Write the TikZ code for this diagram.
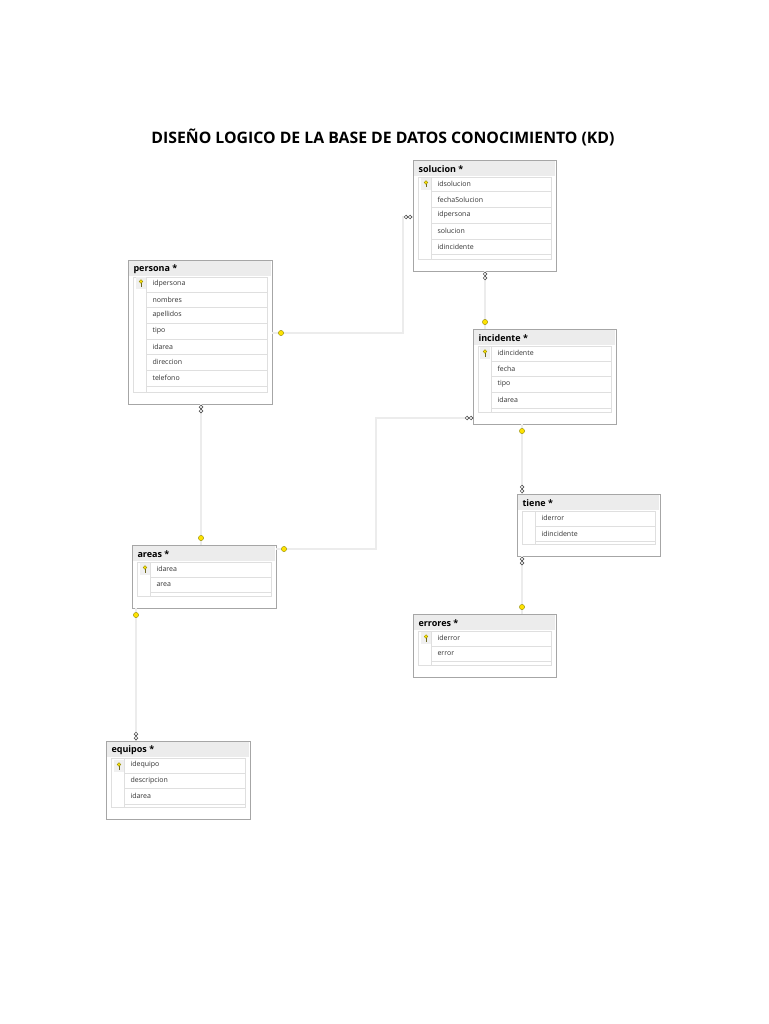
\documentclass[tikz,border=0pt]{standalone}
\usepackage{fontspec}
\setmainfont{Open Sans}
\begin{document}
\begin{tikzpicture}[x=1pt,y=-1pt,
  tbox/.style={draw=gray!70,fill=white,line width=0.8pt,inner sep=0,anchor=north west},
  rowtxt/.style={anchor=west,font=\fontsize{7}{8}\selectfont,text=black!80},
  htxt/.style={anchor=west,font=\bfseries\fontsize{9}{10}\selectfont},
  rel/.style={draw=gray!60!black,double=gray!15,double distance=1.3pt,line width=0.6pt},
  inf/.style={draw=black!75,line width=0.5pt}]
\useasboundingbox (0,0) rectangle (768,1024);
\node[font=\bfseries\fontsize{15.8}{18}\selectfont] (title) at (383,137) {DISEÑO LOGICO DE LA BASE DE DATOS CONOCIMIENTO (KD)};
\newcommand\keymark[2]{\fill[yellow!85!orange,draw=olive,line width=0.4pt] (#1,#2) circle (2.6pt);}
\newcommand\tbl[7]{% name,x,y,w,h,title,rows
  \node[tbox,minimum width=#4pt,minimum height=#5pt] (#1) at (#2,#3) {};
  \fill[gray!15] (#2+1,#3+1) rectangle (#2+#4-1,#3+16);
  \node[htxt] (#1-t) at (#2+2,#3+9) {#6 *};
  \draw[gray!25] (#2+5,#3+17) rectangle (#2+#4-5,#3+#5-12);
  \foreach [count=\i] \r in {#7}{
    \node[rowtxt] (#1-r\i) at (#2+21,#3+8+15.7*\i) {\r};
    \draw[gray!25] (#2+18,#3+16+15.7*\i) -- (#2+#4-5,#3+16+15.7*\i);
  }
  \draw[gray!25] (#2+18,#3+17) -- (#2+18,#3+#5-12);
}
\tbl{sol}{413}{160}{143}{111}{solucion}{idsolucion,fechaSolucion,idpersona,solucion,idincidente}
\tbl{per}{128}{260}{144}{144}{persona}{idpersona,nombres,apellidos,tipo,idarea,direccion,telefono}
\tbl{inc}{473}{329}{143}{95}{incidente}{idincidente,fecha,tipo,idarea}
\tbl{tie}{517}{494}{143}{62}{tiene}{iderror,idincidente}
\tbl{are}{132}{545}{144}{63}{areas}{idarea,area}
\tbl{err}{413}{614}{143}{63}{errores}{iderror,error}
\tbl{equ}{106}{741}{144}{78}{equipos}{idequipo,descripcion,idarea}
% primary key icons
\foreach \t/\x/\y in {sol/426/184,per/141/283,inc/485/353,are/145/569,err/426/638,equ/119/766}{
  \fill[gray!12] (\x-5,\y-6) rectangle (\x+5,\y+6);
  \fill[yellow!85!orange,draw=olive,line width=0.3pt] (\x,\y-1.5) circle (1.8pt);
  \draw[olive!70!black,line width=0.6pt] (\x,\y) -- (\x,\y+3.5);
}
% relationships
\coordinate (p1) at (272,333); \coordinate (s1) at (413,217);
\draw[rel] (p1) -- (403,333) -- (403,217) -- (s1);
\coordinate (s2) at (485,271); \coordinate (i2) at (485,329);
\draw[rel] (s2) -- (i2);
\coordinate (p3) at (201,404); \coordinate (a3) at (201,545);
\draw[rel] (p3) -- (a3);
\coordinate (i4) at (473,418); \coordinate (a4) at (276,549);
\draw[rel] (i4) -- (376,418) -- (376,549) -- (a4);
\coordinate (i5) at (522,424); \coordinate (t5) at (522,494);
\draw[rel] (i5) -- (t5);
\coordinate (t6) at (522,556); \coordinate (e6) at (522,614);
\draw[rel] (t6) -- (e6);
\coordinate (a7) at (136,608); \coordinate (q7) at (136,741);
\draw[rel] (a7) -- (q7);
% key ends
\keymark{281}{333}
\keymark{485}{322}
\keymark{201}{538}
\keymark{284}{549}
\keymark{522}{431}
\keymark{522}{607}
\keymark{136}{615}
% infinity ends
\foreach \x/\y in {406/217,410/217,467/418,471/418}{\draw[inf] (\x,\y) circle (1.9pt);}
\foreach \x/\y in {485/274,485/278,201/407,201/411,522/487,522/491,522/559,522/563,136/734,136/738}{\draw[inf] (\x,\y) circle (1.9pt);}
\end{tikzpicture}
\end{document}
